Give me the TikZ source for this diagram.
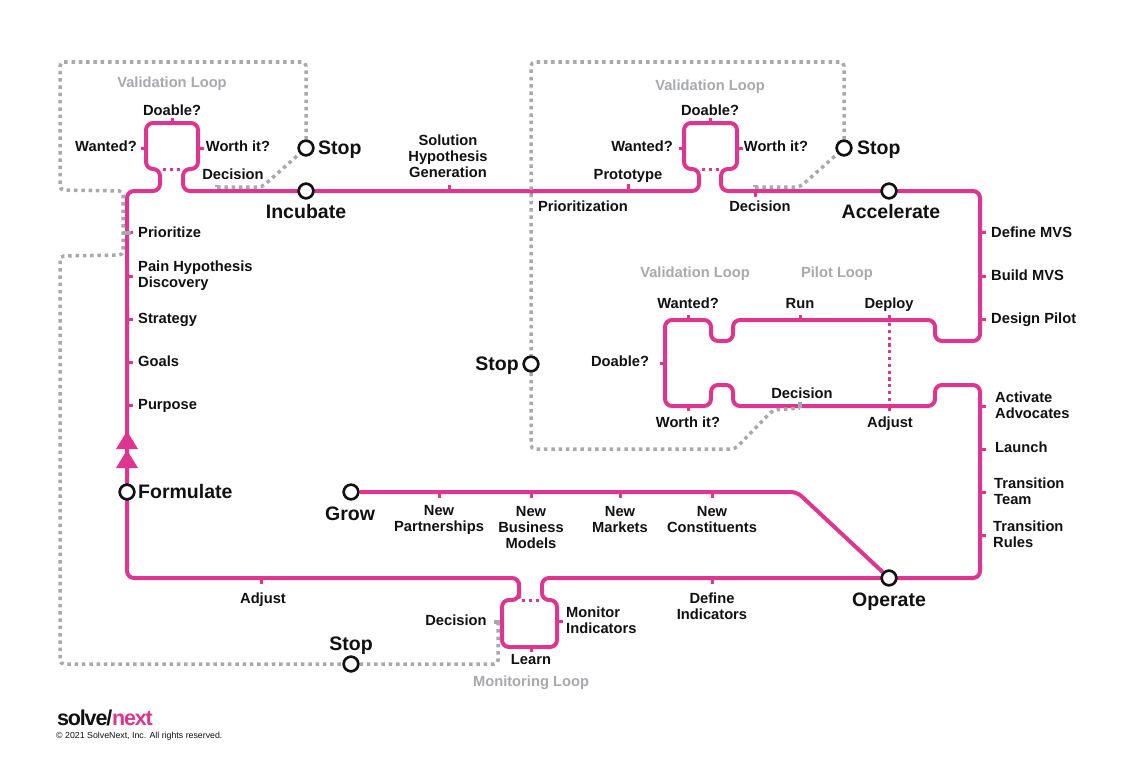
\documentclass[tikz,border=0pt]{standalone}
\usepackage{fontspec}
\setmainfont{Liberation Sans}
\newfontfamily\logofont[LetterSpace=-5.5]{Liberation Sans}
\definecolor{track}{HTML}{DE3590}
\definecolor{loopgrey}{HTML}{A7A9AC}
\definecolor{ink}{HTML}{111114}
\tikzset{
  trackline/.style={draw=track,line width=4pt,line join=round},
  tickmark/.style={draw=track,line width=3pt},
  pinkdots/.style={draw=track,line width=3pt,dash pattern=on 3.2pt off 3.6pt},
  greydots/.style={draw=loopgrey,line width=3.5pt,dash pattern=on 3.5pt off 3.8pt,rounded corners=4pt},
  greytick/.style={draw=loopgrey,line width=3.5pt},
  station/.style={circle,draw=ink,fill=white,line width=2.5pt,minimum size=14.5pt,inner sep=0pt},
  lab/.style={font=\fontsize{14.7}{16}\selectfont\bfseries,text=ink,inner sep=0pt,align=center,yshift=-2pt},
  labl/.style={lab,align=left,anchor=west},
  one/.style={text height=10pt,text depth=3pt},
  head/.style={font=\fontsize{19.5}{21}\selectfont\bfseries,text=ink,inner sep=0pt,text height=13pt,text depth=4pt,yshift=-1.5pt},
  looplab/.style={font=\fontsize{14.7}{16}\selectfont\bfseries,text=loopgrey,inner sep=0pt,text height=10pt,text depth=3pt,yshift=-2pt},
}
\begin{document}
\begin{tikzpicture}[x=1pt,y=-1pt]
\useasboundingbox[fill=white] (0,0) rectangle (1134,760);

% main closed track
\draw[trackline,rounded corners=7pt]
  (519,590) -- (519,578) -- (127,578) -- (127,191) -- (160,191) -- (160,169) -- (146,169)
  -- (146,123) -- (198,123) -- (198,169) -- (183,169) -- (183,191) -- (699,191) -- (699,169)
  -- (684,169) -- (684,123) -- (737,123) -- (737,169) -- (721,169) -- (721,191) -- (980,191)
  -- (980,341) -- (935,341) -- (935,320) -- (733,320) -- (733,341) -- (711,341) -- (711,320)
  -- (665,320) -- (665,406) -- (711,406) -- (711,385) -- (733,385) -- (733,406) -- (935,406)
  -- (935,385) -- (980,385) -- (980,578) -- (542,578) -- (542,600) -- (557,600) -- (557,647)
  -- (502,647) -- (502,600) -- (519,600) -- cycle;

% stations (named first so that links can use them)
\node[station] (incubate) at (306,191) {};
\node[station] (stopa) at (306,148) {};
\node[station] (accelerate) at (889,191) {};
\node[station] (stopb) at (844,148) {};
\node[station] (stopc) at (531,364) {};
\node[station] (formulate) at (127,492) {};
\node[station] (grow) at (351,492) {};
\node[station] (operate) at (889,578) {};
\node[station] (stopd) at (351,664) {};

% grow branch
\draw[trackline,rounded corners=6pt] (grow) -- (797,492) -- (operate);

% dotted joins in the track
\draw[pinkdots] (163,169) -- (181,169);
\draw[pinkdots] (702,169) -- (719,169);
\draw[pinkdots] (522,600) -- (540,600);
\draw[pinkdots] (889,323) -- (889,404);

% arrowheads
\fill[track] (127,431) -- (138,449) -- (116,449) -- cycle;
\fill[track] (127,450) -- (138,468) -- (116,468) -- cycle;

% pink ticks
\foreach \y in {232,276,319,362,405} \draw[tickmark] (127,\y) -- (133,\y);
\foreach \y in {232,276,319,406,449,492,535} \draw[tickmark] (980,\y) -- (986,\y);
\draw[tickmark] (172,123) -- (172,118);
\draw[tickmark] (146,148) -- (141,148);
\draw[tickmark] (198,148) -- (203.5,148);
\draw[tickmark] (449,191) -- (449,185);
\draw[tickmark] (628,191) -- (628,184);
\draw[tickmark] (531,191) -- (531,197);
\draw[tickmark] (710,123) -- (710,118);
\draw[tickmark] (684,148) -- (679,148);
\draw[tickmark] (737,148) -- (742.5,148);
\draw[tickmark] (755,191) -- (755,197);
\draw[tickmark] (688,320) -- (688,315);
\draw[tickmark] (800,320) -- (800,315);
\draw[tickmark] (889,320) -- (889,315);
\draw[tickmark] (665,363) -- (660,363);
\draw[tickmark] (688,406) -- (688,411);
\draw[tickmark] (889,406) -- (889,411);
\draw[tickmark] (439,492) -- (439,498);
\draw[tickmark] (531,492) -- (531,498);
\draw[tickmark] (620,492) -- (620,498);
\draw[tickmark] (712,492) -- (712,498);
\draw[tickmark] (261,578) -- (261,584);
\draw[tickmark] (712,578) -- (712,584);
\draw[tickmark] (557,621) -- (563,621);
\draw[tickmark] (531,647) -- (531,652);
\draw[tickmark] (502,621) -- (497,621);

% grey loops
\coordinate (deca) at (217,187);
\coordinate (decb) at (755,187);
\coordinate (decc) at (800,408);
\coordinate (prio) at (131,233);
\coordinate (decd) at (500,622);
\draw[greydots] (deca) -- (262,187) -- (stopa);
\draw[greydots] (stopa) -- (306,62) -- (60,62) -- (60,190) -- (123,191) -- (123,255) -- (60,256) -- (60,664) -- (stopd);
\draw[greydots] (stopd) -- (498,664) -- (498,622);
\draw[greytick] (decd) -- (494,622);
\draw[greytick] (prio) -- (123,233);
\draw[greydots] (decb) -- (800,187) -- (stopb);
\draw[greydots] (stopb) -- (844,62) -- (531,62) -- (stopc);
\draw[greydots] (stopc) -- (531,449) -- (735,449) -- (773,410) -- (decc);
\draw[greytick] (decc) -- (800,402);
\draw[greytick] (deca) -- ++(0,-2);
\draw[greytick] (decb) -- ++(0,-2);

% stations again, on top of the loops
\foreach \p in {incubate,stopa,accelerate,stopb,stopc,formulate,grow,operate,stopd}
  \node[station] at (\p) {};

% labels: upper left
\node[looplab] (l1) at (172,82) {Validation Loop};
\node[lab,one] (l2) at (172,110) {Doable?};
\node[lab,one] (l3) at (106,146) {Wanted?};
\node[lab,one] (l4) at (238,146) {Worth it?};
\node[lab,one] (l5) at (233,174) {Decision};
\node[head,anchor=west] (l6) at (318,148) {Stop};
\node[head] (l7) at (306,212) {Incubate};
\node[lab] (l8) at (448,154) {Solution\\Hypothesis\\Generation};
\node[lab,one] (l9) at (628,174) {Prototype};
\node[lab,one] (l10) at (583,206) {Prioritization};
% upper right
\node[looplab] (l11) at (710,85) {Validation Loop};
\node[lab,one] (l12) at (710,110) {Doable?};
\node[lab,one] (l13) at (642,146) {Wanted?};
\node[lab,one] (l14) at (776,146) {Worth it?};
\node[head,anchor=west] (l15) at (857,148) {Stop};
\node[lab,one] (l16) at (760,206) {Decision};
\node[head] (l17) at (891,212) {Accelerate};
\node[lab,one,anchor=west] (l18) at (991,232) {Define MVS};
\node[lab,one,anchor=west] (l19) at (991,275) {Build MVS};
\node[lab,one,anchor=west] (l20) at (991,318) {Design Pilot};
% pilot
\node[looplab] (l21) at (695,272) {Validation Loop};
\node[looplab] (l22) at (837,272) {Pilot Loop};
\node[lab,one] (l23) at (688,303) {Wanted?};
\node[lab,one] (l24) at (800,303) {Run};
\node[lab,one] (l25) at (889,303) {Deploy};
\node[lab,one] (l26) at (620,361) {Doable?};
\node[lab,one] (l27) at (688,422) {Worth it?};
\node[lab,one] (l28) at (802,393) {Decision};
\node[lab,one] (l29) at (890,422) {Adjust};
\node[head,anchor=east] (l30) at (519,364) {Stop};
\node[labl] (l31) at (995,403) {Activate\\Advocates};
\node[lab,one,anchor=west] (l32) at (995,447) {Launch};
\node[labl] (l33) at (994,489) {Transition\\Team};
\node[labl] (l34) at (993,532) {Transition\\Rules};
% left column
\node[lab,one,anchor=west] (l35) at (138,232) {Prioritize};
\node[labl] (l36) at (138,274) {Pain Hypothesis\\Discovery};
\node[lab,one,anchor=west] (l37) at (138,318) {Strategy};
\node[lab,one,anchor=west] (l38) at (138,361) {Goals};
\node[lab,one,anchor=west] (l39) at (138,404) {Purpose};
\node[head,anchor=west] (l40) at (138,492) {Formulate};
% lower
\node[head] (l41) at (350,514) {Grow};
\node[lab] (l42) at (439,518) {New\\Partnerships};
\node[lab] (l43) at (531,526) {New\\Business\\Models};
\node[lab] (l44) at (620,518) {New\\Markets};
\node[lab] (l45) at (712,518) {New\\Constituents};
\node[lab,one] (l46) at (263,598) {Adjust};
\node[lab] (l47) at (712,604) {Define\\Indicators};
\node[head] (l48) at (889,600) {Operate};
\node[lab,one] (l49) at (456,620) {Decision};
\node[labl] (l50) at (566,618) {Monitor\\Indicators};
\node[lab,one] (l51) at (531,659) {Learn};
\node[looplab] (l52) at (531,681) {Monitoring Loop};
\node[head] (l53) at (351,644) {Stop};

% logo
\node[anchor=west,inner sep=0pt,font=\logofont\fontsize{21.5}{24}\selectfont\bfseries] (logo) at (57,718) {\textcolor{ink}{solve/}\textcolor{track}{next}};
\node[anchor=west,inner sep=0pt,font=\fontsize{8.8}{10}\selectfont,text=ink] (copy) at (56,736) {© 2021 SolveNext, Inc. All rights reserved.};
\end{tikzpicture}
\end{document}
